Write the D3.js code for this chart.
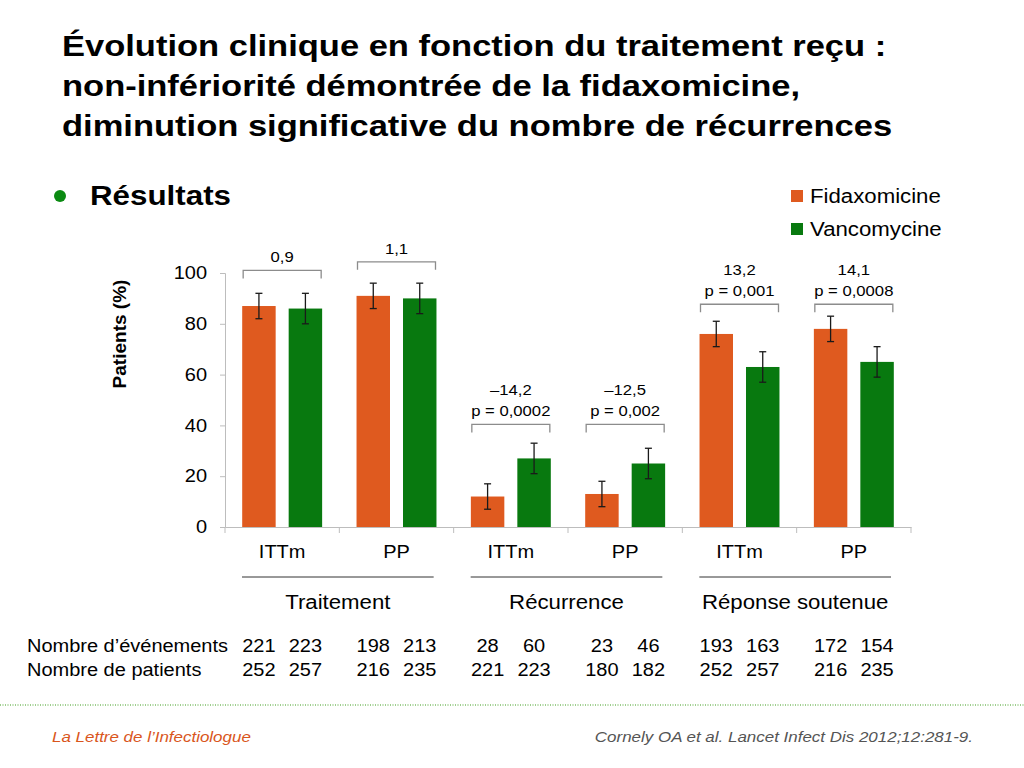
<!DOCTYPE html>
<html lang="fr">
<head>
<meta charset="utf-8">
<title>Évolution clinique</title>
<script src="https://cdn.jsdelivr.net/npm/d3@7"></script>
<style>
  body { margin: 0; background: #fff; }
  svg { display: block; font-family: "Liberation Sans", Arial, sans-serif; }
</style>
</head>
<body>
<svg width="1024" height="768"></svg>
<script>
// données
var categories = ["ITTm", "PP", "ITTm", "PP", "ITTm", "PP"];
var groups = ["Traitement", "Récurrence", "Réponse soutenue"];
var series = ["Fidaxomicine", "Vancomycine"];
var fidaxo = [87, 91, 12, 13, 76, 78];
var fidaxoLow = [82, 86, 7, 8, 71, 73];
var fidaxoHigh = [92, 96, 17, 18, 81, 83];
var vanco = [86, 90, 27, 25, 63, 65];
var vancoLow = [80, 84, 21, 19, 57, 59];
var vancoHigh = [92, 96, 33, 31, 69, 71];
var diffLabels = [["0,9"], ["1,1"], ["\u201314,2", "p = 0,0002"], ["\u201312,5", "p = 0,002"], ["13,2", "p = 0,001"], ["14,1", "p = 0,0008"]];
var bracketLevel = [101, 104.4, 40.4, 40.4, 87.7, 87.7];
var yTicks = [0, 20, 40, 60, 80, 100];
var eventsF = [221, 198, 28, 23, 193, 172];
var eventsV = [223, 213, 60, 46, 163, 154];
var patientsF = [252, 216, 221, 180, 252, 216];
var patientsV = [257, 235, 223, 182, 257, 235];

var colors = ["#df5a1f", "#08790f"];
var svg = d3.select("svg");

// le texte de la diapo est un peu plus large qu'Arial : on l'étire
function stretch(sel, k) {
  sel.each(function () {
    var w = this.getComputedTextLength();
    d3.select(this).attr("textLength", w * k).attr("lengthAdjust", "spacingAndGlyphs");
  });
}

// titre
var title = ["Évolution clinique en fonction du traitement reçu :",
             "non-infériorité démontrée de la fidaxomicine,",
             "diminution significative du nombre de récurrences"];
svg.selectAll("text.title").data(title).enter().append("text")
  .attr("class", "title")
  .attr("x", 62).attr("y", function (d, i) { return 56 + i * 40; })
  .attr("font-size", 30).attr("font-weight", "bold").attr("fill", "#000")
  .text(function (d) { return d; });

// puce
svg.append("circle").attr("cx", 60).attr("cy", 196).attr("r", 6).attr("fill", "#0b8a12");
svg.append("text").attr("class", "big").attr("x", 90).attr("y", 205).attr("font-size", 27)
  .attr("font-weight", "bold").text("Résultats");

// légende
series.forEach(function (s, i) {
  svg.append("rect").attr("x", 791).attr("y", 190 + i * 33).attr("width", 12).attr("height", 12)
    .attr("fill", colors[i]);
  svg.append("text").attr("x", 810).attr("y", 203 + i * 33).attr("font-size", 20).text(s);
});

// graphique
var plotL = 225, plotR = 911, plotT = 273, plotB = 527;
var idx = d3.range(categories.length);
var x = d3.scaleBand().domain(idx).range([plotL, plotR]);
var xs = d3.scaleBand().domain([0, 1]).range([0, x.bandwidth()]).paddingInner(0.28).paddingOuter(0.37);
var y = d3.scaleLinear().domain([0, 100]).range([plotB, plotT]);

var g = svg.append("g");

// axe Y
var yAxis = g.append("g").attr("transform", "translate(" + plotL + ",0)")
  .call(d3.axisLeft(y).tickValues(yTicks).tickSize(5).tickPadding(13));
yAxis.select(".domain").attr("stroke", "#bdbdbd");
yAxis.selectAll(".tick line").attr("stroke", "#bdbdbd");
yAxis.selectAll("text").attr("font-size", 18).attr("fill", "#000")
  .attr("font-family", "Liberation Sans, Arial, sans-serif");

// axe X
var xAxis = g.append("g").attr("transform", "translate(0," + plotB + ")")
  .call(d3.axisBottom(x).tickValues([]).tickSizeOuter(0));
xAxis.select(".domain").attr("stroke", "#bdbdbd");
g.selectAll("line.sep").data(d3.range(categories.length + 1)).enter().append("line")
  .attr("class", "sep")
  .attr("x1", function (d) { return plotL + d * x.step(); })
  .attr("x2", function (d) { return plotL + d * x.step(); })
  .attr("y1", plotB).attr("y2", plotB + 6)
  .attr("stroke", "#bdbdbd");

var data = idx.map(function (i) {
  return [
    { i: i, s: 0, v: fidaxo[i], lo: fidaxoLow[i], hi: fidaxoHigh[i] },
    { i: i, s: 1, v: vanco[i], lo: vancoLow[i], hi: vancoHigh[i] }
  ];
});
var flat = [].concat.apply([], data);

g.selectAll("rect.bar").data(flat).enter().append("rect")
  .attr("class", "bar")
  .attr("x", function (d) { return x(d.i) + xs(d.s); })
  .attr("width", xs.bandwidth())
  .attr("y", function (d) { return y(d.v); })
  .attr("height", function (d) { return plotB - y(d.v); })
  .attr("fill", function (d) { return colors[d.s]; });

// barres d'erreur
var err = g.selectAll("g.err").data(flat).enter().append("g").attr("class", "err")
  .attr("stroke", "#1a1a1a").attr("stroke-width", 1.3);
err.append("line")
  .attr("x1", function (d) { return x(d.i) + xs(d.s) + xs.bandwidth() / 2; })
  .attr("x2", function (d) { return x(d.i) + xs(d.s) + xs.bandwidth() / 2; })
  .attr("y1", function (d) { return y(d.lo); }).attr("y2", function (d) { return y(d.hi); });
["lo", "hi"].forEach(function (k) {
  err.append("line")
    .attr("x1", function (d) { return x(d.i) + xs(d.s) + xs.bandwidth() / 2 - 3.5; })
    .attr("x2", function (d) { return x(d.i) + xs(d.s) + xs.bandwidth() / 2 + 3.5; })
    .attr("y1", function (d) { return y(d[k]); }).attr("y2", function (d) { return y(d[k]); });
});

// crochets et différences
idx.forEach(function (i) {
  var cx = x(i) + x.bandwidth() / 2;
  var by = y(bracketLevel[i]);
  g.append("path")
    .attr("d", "M" + (cx - 39) + "," + (by + 8) + "V" + by + "H" + (cx + 39) + "V" + (by + 8))
    .attr("fill", "none").attr("stroke", "#8c8c8c").attr("stroke-width", 1.3);
  var lines = diffLabels[i];
  lines.forEach(function (t, j) {
    g.append("text").attr("x", cx).attr("y", by - 8 - (lines.length - 1 - j) * 21)
      .attr("text-anchor", "middle").attr("font-size", 15).text(t);
  });
});

// étiquettes catégories
g.selectAll("text.cat").data(idx).enter().append("text").attr("class", "cat")
  .attr("x", function (i) { return x(i) + x.bandwidth() / 2; })
  .attr("y", 558).attr("text-anchor", "middle").attr("font-size", 18)
  .text(function (i) { return categories[i]; });

groups.forEach(function (gr, k) {
  var x0 = x(2 * k) + 17, x1 = x(2 * k + 1) + x.bandwidth() - 20;
  g.append("line").attr("x1", x0).attr("x2", x1).attr("y1", 577).attr("y2", 577)
    .attr("stroke", "#333").attr("stroke-width", 1);
  g.append("text").attr("x", (x0 + x1) / 2).attr("y", 609).attr("text-anchor", "middle")
    .attr("font-size", 20).text(gr);
});

// titre axe Y
svg.append("text").attr("class", "ylab").attr("transform", "translate(126,334) rotate(-90)")
  .attr("text-anchor", "middle").attr("font-size", 19).attr("font-weight", "bold")
  .text("Patients (%)");

// tableau
var rows = [["Nombre d\u2019événements", eventsF, eventsV], ["Nombre de patients", patientsF, patientsV]];
rows.forEach(function (r, k) {
  var ry = 652 + k * 24;
  svg.append("text").attr("x", 27).attr("y", ry).attr("font-size", 18).text(r[0]);
  flat.forEach(function (d) {
    svg.append("text")
      .attr("x", x(d.i) + xs(d.s) + xs.bandwidth() / 2)
      .attr("y", ry).attr("text-anchor", "middle").attr("font-size", 18)
      .text(d.s === 0 ? r[1][d.i] : r[2][d.i]);
  });
});

// pied de page
svg.append("line").attr("x1", 0).attr("x2", 1024).attr("y1", 705).attr("y2", 705)
  .attr("stroke", "#7fbf6a").attr("stroke-width", 1.5).attr("stroke-dasharray", "1,1.5");
svg.append("text").attr("class", "foot").attr("x", 52).attr("y", 742).attr("font-size", 15).attr("font-style", "italic")
  .attr("fill", "#d9561c").text("La Lettre de l\u2019Infectiologue");
svg.append("text").attr("class", "foot").attr("x", 973).attr("y", 742).attr("font-size", 15).attr("font-style", "italic")
  .attr("text-anchor", "end").attr("fill", "#555")
  .text("Cornely OA et al. Lancet Infect Dis 2012;12:281-9.");

stretch(svg.selectAll("text.title"), 1.15);
stretch(svg.selectAll("text.big"), 1.16);
stretch(svg.selectAll("text.foot"), 1.13);
stretch(svg.selectAll("text:not(.title):not(.big):not(.ylab):not(.foot)"), 1.11);
</script>
</body>
</html>
